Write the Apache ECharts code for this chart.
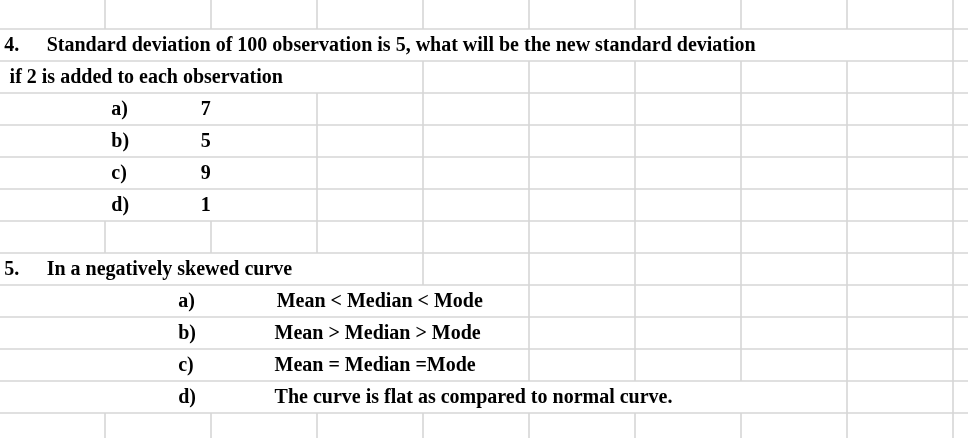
<!DOCTYPE html>
<html><head><meta charset="utf-8">
<script src="https://cdn.jsdelivr.net/npm/echarts@6/dist/echarts.min.js"></script>
<style>html,body{margin:0;padding:0;background:#fff}#c{width:968px;height:438px}</style>
</head><body><div id="c"></div>
<script>
// Spreadsheet cells: [anchor in column units, row, text, align]
const cellTexts = [
  [0.05, 1, "4.", "left"],
  [0.45, 1, "Standard deviation of 100 observation is 5, what will be the new standard deviation", "left"],
  [0.10, 2, "if 2 is added to each observation", "left"],
  [1.06, 3, "a)", "left"], [1.95, 3, "7", "center"],
  [1.06, 4, "b)", "left"], [1.95, 4, "5", "center"],
  [1.06, 5, "c)", "left"], [1.95, 5, "9", "center"],
  [1.06, 6, "d)", "left"], [1.95, 6, "1", "center"],
  [0.05, 8, "5.", "left"],
  [0.45, 8, "In a negatively skewed curve", "left"],
  [1.69, 9, "a)", "left"], [2.62, 9, "Mean < Median < Mode", "left"],
  [1.69, 10, "b)", "left"], [2.60, 10, "Mean > Median > Mode", "left"],
  [1.69, 11, "c)", "left"], [2.60, 11, "Mean = Median =Mode", "left"],
  [1.69, 12, "d)", "left"], [2.60, 12, "The curve is flat as compared to normal curve.", "left"]
];
const rowBoundaries = [1,2,3,4,5,6,7,8,9,10,11,12,13];
const colBoundaries = [1,2,3,4,5,6,7,8,9];
const rowCount = 14;
// rows where text overflows: [row, firstHiddenCol, lastHiddenCol]
const hiddenVerticals = [[1,1,8],[2,1,3],[3,1,2],[4,1,2],[5,1,2],[6,1,2],[8,1,3],[9,1,4],[10,1,4],[11,1,4],[12,1,7]];

const segs = [];
rowBoundaries.forEach(r => segs.push([0, r, 10, r]));
for (let r = 0; r < rowCount; r++) {
  colBoundaries.forEach(c => {
    const h = hiddenVerticals.find(d => d[0] === r && c >= d[1] && c <= d[2]);
    if (!h) segs.push([c, r, c, r + 1]);
  });
}
const chart = echarts.init(document.getElementById('c'));
chart.setOption({
  animation: false,
  grid: {left: 0, right: 0, top: 0, bottom: 0},
  xAxis: {type: 'value', min: 1/106, max: 969/106, show: false},
  yAxis: {type: 'value', inverse: true, min: 3/32, max: 441/32, show: false},
  series: [
    {
      type: 'custom', data: segs, silent: true,
      renderItem: (p, api) => {
        const a = api.coord([api.value(0), api.value(1)]);
        const b = api.coord([api.value(2), api.value(3)]);
        return {type: 'line', shape: {x1: a[0], y1: a[1], x2: b[0], y2: b[1]},
          style: {stroke: '#d6d6d6', lineWidth: 1.6}};
      }
    },
    {
      type: 'custom', silent: true,
      data: cellTexts.map(t => [t[0], t[1] + 0.5]),
      renderItem: (p, api) => {
        const d = cellTexts[p.dataIndex];
        const a = api.coord([d[0], d[1] + 0.5]);
        return {type: 'text', x: a[0], y: a[1] + 1,
          style: {text: d[2], fill: '#000', fontFamily: 'Liberation Serif', fontWeight: 'bold', fontSize: 20,
            align: d[3], verticalAlign: 'middle'}};
      }
    }
  ]
});
</script></body></html>
